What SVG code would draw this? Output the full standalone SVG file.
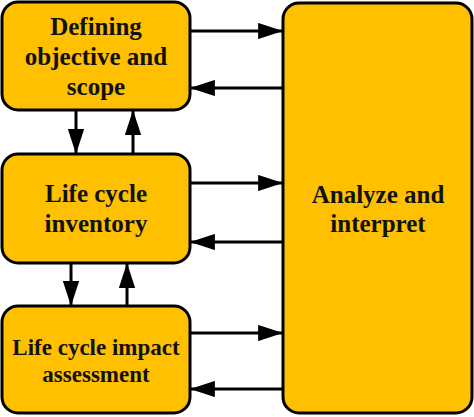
<svg xmlns="http://www.w3.org/2000/svg" width="474" height="417" viewBox="0 0 474 417">
<defs>
<style>
.box{fill:#FFC000;stroke:#000;stroke-width:3}
.t{font-family:"Liberation Serif","Times New Roman",serif;font-weight:bold;font-size:25px;fill:#111;text-anchor:middle}
.c{stroke:#000;stroke-width:3;fill:none;marker-end:url(#ah)}
</style>
<marker id="ah" markerWidth="8.3" markerHeight="5.4" refX="8.3" refY="2.7" orient="auto" markerUnits="strokeWidth">
<path d="M0,0 L8.3,2.7 L0,5.4 Z" fill="#000"/>
</marker>
</defs>
<rect width="474" height="417" fill="#fff"/>
<g id="connectors">
<path class="c" d="M190,31 H283"/>
<path class="c" d="M283,88 H190"/>
<path class="c" d="M190,183 H283"/>
<path class="c" d="M283,242 H190"/>
<path class="c" d="M190,333 H283"/>
<path class="c" d="M283,389 H190"/>
<path class="c" d="M76,110 V154"/>
<path class="c" d="M133,154 V110"/>
<path class="c" d="M71,263 V306"/>
<path class="c" d="M127,306 V263"/>
</g>
<g id="define">
<rect class="box" x="2" y="2" width="188" height="108" rx="16"/>
<text class="t" x="96" y="35">Defining</text>
<text class="t" x="96" y="65">objective and</text>
<text class="t" x="96" y="95">scope</text>
</g>
<g id="inventory">
<rect class="box" x="2" y="154" width="188" height="109" rx="16"/>
<text class="t" x="96" y="202">Life cycle</text>
<text class="t" x="96" y="232">inventory</text>
</g>
<g id="impact">
<rect class="box" x="2" y="306" width="188" height="107" rx="16"/>
<text class="t" x="96" y="355" style="font-size:23px">Life cycle impact</text>
<text class="t" x="96" y="382" style="font-size:23px">assessment</text>
</g>
<g id="analyze">
<rect class="box" x="283" y="3" width="189" height="410" rx="16"/>
<text class="t" x="378" y="203">Analyze and</text>
<text class="t" x="378" y="232">interpret</text>
</g>
</svg>
